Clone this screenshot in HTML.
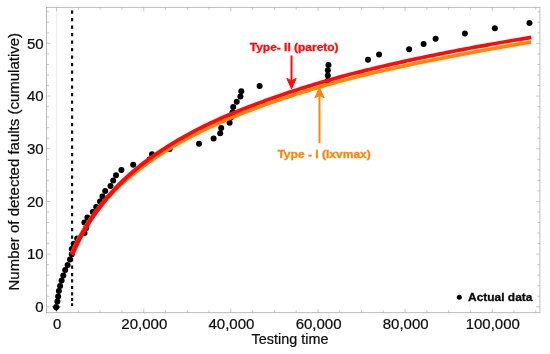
<!DOCTYPE html><html><head><meta charset="utf-8"><title>chart</title><style>html,body{margin:0;padding:0;background:#fff}svg{display:block}text{font-family:"Liberation Sans",Arial,sans-serif}.ax text{stroke:#0c0c0c;stroke-width:0.22px}.bl{stroke-width:0.3px}</style></head><body>
<svg width="550" height="354" viewBox="0 0 550 354">
<rect width="550" height="354" fill="#fff"/>
<line x1="56.699999999999996" y1="7.3" x2="56.699999999999996" y2="312.7" stroke="#e6e6e6" stroke-width="0.8"/>
<rect x="46.5" y="7.3" width="493.4" height="305.4" fill="none" stroke="#a6a6a6" stroke-width="0.75"/>
<path d="M56.60,312.7v-4M56.60,7.3v4M78.38,312.7v-2.5M78.38,7.3v2.5M100.16,312.7v-2.5M100.16,7.3v2.5M121.94,312.7v-2.5M121.94,7.3v2.5M143.72,312.7v-4M143.72,7.3v4M165.50,312.7v-2.5M165.50,7.3v2.5M187.28,312.7v-2.5M187.28,7.3v2.5M209.06,312.7v-2.5M209.06,7.3v2.5M230.84,312.7v-4M230.84,7.3v4M252.62,312.7v-2.5M252.62,7.3v2.5M274.40,312.7v-2.5M274.40,7.3v2.5M296.18,312.7v-2.5M296.18,7.3v2.5M317.96,312.7v-4M317.96,7.3v4M339.74,312.7v-2.5M339.74,7.3v2.5M361.52,312.7v-2.5M361.52,7.3v2.5M383.30,312.7v-2.5M383.30,7.3v2.5M405.08,312.7v-4M405.08,7.3v4M426.86,312.7v-2.5M426.86,7.3v2.5M448.64,312.7v-2.5M448.64,7.3v2.5M470.42,312.7v-2.5M470.42,7.3v2.5M492.20,312.7v-4M492.20,7.3v4M513.98,312.7v-2.5M513.98,7.3v2.5M535.76,312.7v-2.5M535.76,7.3v2.5M46.5,306.80h4M539.9,306.80h-4M46.5,296.26h2.5M539.9,296.26h-2.5M46.5,285.73h2.5M539.9,285.73h-2.5M46.5,275.19h2.5M539.9,275.19h-2.5M46.5,264.66h2.5M539.9,264.66h-2.5M46.5,254.12h4M539.9,254.12h-4M46.5,243.58h2.5M539.9,243.58h-2.5M46.5,233.05h2.5M539.9,233.05h-2.5M46.5,222.51h2.5M539.9,222.51h-2.5M46.5,211.98h2.5M539.9,211.98h-2.5M46.5,201.44h4M539.9,201.44h-4M46.5,190.90h2.5M539.9,190.90h-2.5M46.5,180.37h2.5M539.9,180.37h-2.5M46.5,169.83h2.5M539.9,169.83h-2.5M46.5,159.30h2.5M539.9,159.30h-2.5M46.5,148.76h4M539.9,148.76h-4M46.5,138.22h2.5M539.9,138.22h-2.5M46.5,127.69h2.5M539.9,127.69h-2.5M46.5,117.15h2.5M539.9,117.15h-2.5M46.5,106.62h2.5M539.9,106.62h-2.5M46.5,96.08h4M539.9,96.08h-4M46.5,85.54h2.5M539.9,85.54h-2.5M46.5,75.01h2.5M539.9,75.01h-2.5M46.5,64.47h2.5M539.9,64.47h-2.5M46.5,53.94h2.5M539.9,53.94h-2.5M46.5,43.40h4M539.9,43.40h-4M46.5,32.86h2.5M539.9,32.86h-2.5M46.5,22.33h2.5M539.9,22.33h-2.5M46.5,11.79h2.5M539.9,11.79h-2.5" stroke="#a6a6a6" stroke-width="0.6" fill="none"/>
<line x1="72.1" y1="10.4" x2="72.1" y2="276.5" stroke="#111" stroke-width="2.2" stroke-dasharray="3.4 4.1"/><path d="M72.1,279.3v3.2M72.1,285.9v3.1M72.1,292.3v3.1M72.1,298.1v2.8M72.1,303.2v2.7" stroke="#111" stroke-width="2.2" fill="none"/>
<g fill="#000">
<circle cx="56.2" cy="306.9" r="3.0"/>
<circle cx="57.4" cy="301.6" r="3.0"/>
<circle cx="58.1" cy="296.4" r="3.0"/>
<circle cx="58.9" cy="291.1" r="3.0"/>
<circle cx="60.1" cy="285.9" r="3.0"/>
<circle cx="61.6" cy="280.6" r="3.0"/>
<circle cx="63.3" cy="275.4" r="3.0"/>
<circle cx="65.2" cy="270.1" r="3.0"/>
<circle cx="67.6" cy="264.9" r="3.0"/>
<circle cx="70.0" cy="259.6" r="3.0"/>
<circle cx="71.8" cy="254.2" r="3.0"/>
<circle cx="71.8" cy="248.9" r="3.0"/>
<circle cx="73.7" cy="243.7" r="3.0"/>
<circle cx="77.2" cy="238.4" r="3.0"/>
<circle cx="84.5" cy="233.1" r="3.0"/>
<circle cx="86.2" cy="227.9" r="3.0"/>
<circle cx="84.4" cy="222.6" r="3.0"/>
<circle cx="87.4" cy="217.4" r="3.0"/>
<circle cx="92.8" cy="212.1" r="3.0"/>
<circle cx="96.2" cy="206.9" r="3.0"/>
<circle cx="100.0" cy="201.6" r="3.0"/>
<circle cx="102.5" cy="196.4" r="3.0"/>
<circle cx="105.2" cy="191.1" r="3.0"/>
<circle cx="110.5" cy="185.9" r="3.0"/>
<circle cx="113.2" cy="180.6" r="3.0"/>
<circle cx="116.0" cy="175.3" r="3.0"/>
<circle cx="121.4" cy="170.1" r="3.0"/>
<circle cx="133.2" cy="164.8" r="3.0"/>
<circle cx="149.5" cy="159.6" r="3.0"/>
<circle cx="152.0" cy="154.3" r="3.0"/>
<circle cx="169.6" cy="149.1" r="3.0"/>
<circle cx="199.0" cy="143.8" r="3.0"/>
<circle cx="213.6" cy="138.6" r="3.0"/>
<circle cx="220.2" cy="133.3" r="3.0"/>
<circle cx="221.2" cy="128.1" r="3.0"/>
<circle cx="229.6" cy="122.8" r="3.0"/>
<circle cx="230.9" cy="117.6" r="3.0"/>
<circle cx="232.5" cy="112.3" r="3.0"/>
<circle cx="233.2" cy="107.0" r="3.0"/>
<circle cx="236.7" cy="101.8" r="3.0"/>
<circle cx="240.4" cy="96.5" r="3.0"/>
<circle cx="241.3" cy="91.3" r="3.0"/>
<circle cx="259.6" cy="86.0" r="3.0"/>
<circle cx="327.8" cy="80.8" r="3.0"/>
<circle cx="327.8" cy="75.5" r="3.0"/>
<circle cx="327.8" cy="70.3" r="3.0"/>
<circle cx="328.5" cy="65.0" r="3.0"/>
<circle cx="368.0" cy="59.8" r="3.0"/>
<circle cx="379.1" cy="54.5" r="3.0"/>
<circle cx="409.1" cy="49.3" r="3.0"/>
<circle cx="423.6" cy="44.0" r="3.0"/>
<circle cx="435.6" cy="38.7" r="3.0"/>
<circle cx="464.9" cy="33.5" r="3.0"/>
<circle cx="494.9" cy="28.2" r="3.0"/>
<circle cx="529.5" cy="23.0" r="3.0"/>
<path d="M52.0,306.4 L60.599999999999994,306.4 L56.3,311.2Z"/>
</g>
<path d="M74.04,254.55 L76.91,248.08 L79.76,242.18 L82.62,236.72 L85.47,231.65 L88.32,226.93 L91.17,222.50 L94.02,218.34 L96.87,214.41 L99.72,210.68 L102.58,207.09 L105.43,203.59 L108.28,200.25 L111.13,197.06 L113.98,194.00 L116.83,191.07 L119.67,188.27 L122.51,185.61 L125.37,183.04 L128.22,180.57 L131.07,178.18 L133.93,175.86 L136.81,173.59 L139.68,171.30 L142.54,169.09 L145.39,166.94 L148.25,164.85 L151.11,162.82 L153.98,160.84 L156.84,158.91 L159.70,157.03 L162.58,155.18 L165.45,153.32 L168.32,151.51 L171.19,149.74 L174.06,148.02 L176.93,146.34 L179.81,144.69 L182.68,143.07 L185.56,141.49 L188.43,139.94 L191.31,138.42 L194.18,136.93 L197.06,135.46 L199.94,134.02 L202.82,132.60 L205.70,131.18 L208.57,129.79 L211.45,128.44 L214.32,127.11 L217.20,125.81 L220.08,124.53 L222.96,123.26 L225.84,122.02 L228.72,120.80 L231.60,119.59 L234.47,118.40 L237.35,117.23 L240.23,116.08 L243.11,114.95 L245.99,113.83 L248.87,112.72 L251.76,111.63 L254.65,110.55 L257.53,109.46 L260.41,108.39 L263.29,107.34 L266.17,106.29 L269.06,105.26 L271.94,104.25 L274.82,103.24 L277.70,102.25 L280.58,101.27 L283.47,100.30 L286.35,99.34 L289.23,98.40 L292.11,97.46 L295.00,96.53 L297.88,95.61 L300.77,94.69 L303.65,93.79 L306.54,92.89 L309.42,92.00 L312.30,91.12 L315.19,90.25 L318.07,89.39 L320.95,88.53 L323.84,87.69 L326.72,86.85 L329.61,86.02 L332.49,85.20 L335.37,84.39 L338.26,83.58 L341.13,82.80 L344.01,82.04 L346.89,81.28 L349.78,80.53 L352.66,79.79 L355.55,79.06 L358.43,78.33 L361.32,77.61 L364.20,76.89 L367.09,76.18 L369.97,75.48 L372.85,74.80 L375.73,74.12 L378.62,73.45 L381.51,72.78 L384.39,72.12 L387.28,71.47 L390.16,70.82 L393.05,70.18 L395.93,69.54 L398.82,68.91 L401.70,68.28 L404.59,67.66 L407.47,67.04 L410.36,66.43 L413.25,65.82 L416.13,65.22 L419.02,64.62 L421.90,64.03 L424.79,63.44 L427.67,62.86 L430.56,62.28 L433.45,61.70 L436.33,61.13 L439.22,60.56 L442.11,60.00 L444.99,59.44 L447.88,58.89 L450.76,58.34 L453.65,57.79 L456.54,57.25 L459.43,56.71 L462.32,56.16 L465.21,55.61 L468.09,55.06 L470.98,54.51 L473.87,53.97 L476.75,53.44 L479.64,52.90 L482.53,52.37 L485.41,51.84 L488.30,51.32 L491.19,50.80 L494.07,50.28 L496.96,49.77 L499.85,49.26 L502.73,48.75 L505.62,48.25 L508.51,47.74 L511.39,47.25 L514.28,46.75 L517.17,46.26 L520.05,45.77 L522.94,45.28 L525.83,44.80 L528.71,44.32 L531.60,43.84 L531.00,40.18 L528.11,40.66 L525.22,41.14 L522.33,41.63 L519.44,42.11 L516.55,42.60 L513.66,43.09 L510.76,43.59 L507.87,44.09 L504.98,44.59 L502.09,45.10 L499.20,45.60 L496.31,46.12 L493.42,46.63 L490.53,47.15 L487.64,47.67 L484.75,48.19 L481.86,48.72 L478.97,49.25 L476.08,49.79 L473.19,50.32 L470.29,50.87 L467.40,51.41 L464.51,51.96 L461.62,52.51 L458.74,53.06 L455.85,53.60 L452.96,54.14 L450.07,54.69 L447.18,55.24 L444.29,55.79 L441.40,56.35 L438.51,56.92 L435.61,57.48 L432.72,58.05 L429.83,58.63 L426.94,59.21 L424.05,59.80 L421.16,60.39 L418.27,60.98 L415.37,61.58 L412.48,62.18 L409.59,62.79 L406.70,63.40 L403.81,64.02 L400.92,64.64 L398.02,65.27 L395.13,65.90 L392.24,66.54 L389.35,67.19 L386.46,67.84 L383.56,68.49 L380.67,69.15 L377.78,69.82 L374.89,70.49 L371.99,71.17 L369.10,71.86 L366.20,72.56 L363.31,73.27 L360.42,73.99 L357.53,74.71 L354.63,75.44 L351.74,76.18 L348.85,76.92 L345.95,77.67 L343.06,78.43 L340.16,79.20 L337.26,79.99 L334.37,80.80 L331.47,81.61 L328.58,82.44 L325.69,83.27 L322.79,84.11 L319.90,84.95 L317.01,85.81 L314.11,86.67 L311.22,87.55 L308.32,88.43 L305.43,89.32 L302.54,90.22 L299.64,91.13 L296.75,92.05 L293.86,92.98 L290.97,93.90 L288.07,94.84 L285.18,95.79 L282.28,96.76 L279.39,97.73 L276.49,98.71 L273.60,99.71 L270.70,100.72 L267.80,101.74 L264.91,102.78 L262.01,103.82 L259.12,104.88 L256.22,105.96 L253.33,107.05 L250.44,108.13 L247.54,109.23 L244.65,110.34 L241.75,111.46 L238.85,112.60 L235.96,113.76 L233.06,114.94 L230.16,116.13 L227.26,117.35 L224.36,118.58 L221.46,119.83 L218.57,121.10 L215.67,122.39 L212.77,123.71 L209.87,125.05 L206.96,126.41 L204.06,127.81 L201.16,129.24 L198.27,130.67 L195.37,132.12 L192.47,133.59 L189.57,135.10 L186.66,136.63 L183.76,138.20 L180.86,139.80 L177.96,141.43 L175.05,143.09 L172.15,144.80 L169.24,146.54 L166.33,148.31 L163.42,150.12 L160.52,151.96 L157.62,153.80 L154.71,155.68 L151.79,157.61 L148.87,159.60 L145.96,161.64 L143.04,163.74 L140.12,165.90 L137.20,168.12 L134.30,170.41 L131.39,172.67 L128.48,175.00 L125.55,177.42 L122.63,179.92 L119.70,182.52 L116.77,185.23 L113.83,188.08 L110.90,191.06 L107.98,194.17 L105.05,197.41 L102.12,200.81 L99.20,204.35 L96.27,207.98 L93.35,211.77 L90.42,215.79 L87.49,220.05 L84.57,224.58 L81.64,229.41 L78.72,234.60 L75.79,240.18 L72.87,246.21 L69.96,252.73Z" fill="#ff8408"/>
<path d="M74.04,255.84 L76.92,249.24 L79.77,243.18 L82.63,237.58 L85.48,232.35 L88.34,227.45 L91.19,222.85 L94.05,218.51 L96.90,214.40 L99.75,210.50 L102.61,206.75 L105.46,203.10 L108.31,199.61 L111.16,196.27 L114.01,193.07 L116.86,189.98 L119.72,187.01 L122.57,184.15 L125.42,181.38 L128.28,178.70 L131.13,176.11 L133.99,173.60 L136.85,171.17 L139.71,168.80 L142.57,166.51 L145.42,164.27 L148.29,162.10 L151.15,159.98 L154.01,157.91 L156.87,155.90 L159.73,153.93 L162.60,152.01 L165.47,150.12 L168.34,148.27 L171.20,146.46 L174.08,144.70 L176.95,142.98 L179.82,141.29 L182.70,139.64 L185.57,138.01 L188.45,136.42 L191.32,134.87 L194.20,133.33 L197.07,131.83 L199.95,130.36 L202.83,128.91 L205.70,127.48 L208.58,126.08 L211.45,124.72 L214.33,123.38 L217.21,122.06 L220.09,120.76 L222.96,119.49 L225.84,118.23 L228.72,117.00 L231.60,115.78 L234.48,114.58 L237.36,113.40 L240.24,112.23 L243.12,111.08 L246.00,109.95 L248.88,108.84 L251.76,107.73 L254.65,106.63 L257.54,105.54 L260.42,104.45 L263.30,103.38 L266.18,102.33 L269.06,101.29 L271.94,100.26 L274.83,99.24 L277.71,98.23 L280.59,97.24 L283.47,96.26 L286.36,95.29 L289.24,94.33 L292.12,93.38 L295.00,92.44 L297.89,91.51 L300.77,90.59 L303.65,89.68 L306.54,88.77 L309.42,87.88 L312.30,87.00 L315.19,86.12 L318.07,85.26 L320.96,84.40 L323.84,83.55 L326.72,82.71 L329.61,81.88 L332.49,81.05 L335.38,80.24 L338.26,79.43 L341.13,78.63 L344.01,77.87 L346.90,77.11 L349.78,76.36 L352.67,75.61 L355.55,74.87 L358.44,74.14 L361.32,73.42 L364.21,72.70 L367.09,71.99 L369.97,71.28 L372.86,70.58 L375.75,69.89 L378.63,69.20 L381.52,68.52 L384.40,67.84 L387.29,67.17 L390.17,66.50 L393.06,65.84 L395.94,65.19 L398.83,64.54 L401.71,63.89 L404.60,63.26 L407.48,62.62 L410.37,61.99 L413.26,61.37 L416.14,60.75 L419.03,60.13 L421.91,59.52 L424.80,58.92 L427.69,58.32 L430.57,57.72 L433.46,57.13 L436.34,56.54 L439.23,55.96 L442.12,55.38 L445.00,54.80 L447.89,54.23 L450.77,53.66 L453.66,53.10 L456.55,52.54 L459.43,51.99 L462.32,51.44 L465.21,50.89 L468.09,50.34 L470.98,49.80 L473.86,49.27 L476.75,48.73 L479.64,48.20 L482.52,47.68 L485.41,47.15 L488.30,46.63 L491.18,46.12 L494.07,45.60 L496.96,45.09 L499.84,44.59 L502.73,44.08 L505.62,43.58 L508.50,43.09 L511.39,42.59 L514.28,42.10 L517.16,41.61 L520.05,41.13 L522.94,40.65 L525.83,40.17 L528.71,39.69 L531.60,39.22 L531.00,35.56 L528.11,36.03 L525.22,36.51 L522.33,36.99 L519.44,37.47 L516.55,37.96 L513.66,38.45 L510.77,38.94 L507.88,39.43 L504.99,39.93 L502.10,40.43 L499.20,40.93 L496.31,41.44 L493.42,41.95 L490.53,42.46 L487.64,42.98 L484.75,43.50 L481.86,44.02 L478.97,44.55 L476.08,45.08 L473.19,45.61 L470.30,46.15 L467.41,46.69 L464.52,47.24 L461.62,47.79 L458.73,48.34 L455.84,48.89 L452.95,49.45 L450.06,50.02 L447.17,50.59 L444.28,51.16 L441.39,51.73 L438.50,52.31 L435.60,52.90 L432.71,53.49 L429.82,54.08 L426.93,54.68 L424.04,55.28 L421.15,55.88 L418.26,56.50 L415.36,57.11 L412.47,57.73 L409.58,58.36 L406.69,58.99 L403.80,59.62 L400.91,60.26 L398.01,60.91 L395.12,61.56 L392.23,62.21 L389.34,62.87 L386.45,63.54 L383.55,64.21 L380.66,64.89 L377.77,65.57 L374.88,66.26 L371.99,66.96 L369.09,67.66 L366.20,68.37 L363.31,69.08 L360.42,69.80 L357.52,70.53 L354.63,71.26 L351.74,72.00 L348.84,72.75 L345.95,73.50 L343.06,74.26 L340.16,75.03 L337.26,75.83 L334.36,76.65 L331.47,77.46 L328.58,78.29 L325.68,79.13 L322.79,79.97 L319.90,80.82 L317.00,81.68 L314.11,82.55 L311.22,83.43 L308.32,84.31 L305.43,85.21 L302.53,86.12 L299.64,87.03 L296.75,87.96 L293.85,88.89 L290.96,89.83 L288.06,90.78 L285.17,91.75 L282.27,92.72 L279.38,93.71 L276.48,94.70 L273.59,95.71 L270.69,96.73 L267.80,97.77 L264.90,98.82 L262.01,99.88 L259.11,100.95 L256.21,102.04 L253.32,103.14 L250.43,104.24 L247.54,105.34 L244.64,106.47 L241.74,107.61 L238.85,108.76 L235.95,109.93 L233.05,111.12 L230.15,112.33 L227.26,113.55 L224.36,114.80 L221.46,116.06 L218.56,117.35 L215.66,118.65 L212.76,119.98 L209.86,121.33 L206.96,122.71 L204.05,124.12 L201.15,125.56 L198.25,127.02 L195.35,128.50 L192.45,130.02 L189.55,131.56 L186.65,133.14 L183.74,134.74 L180.84,136.38 L177.94,138.05 L175.04,139.75 L172.13,141.49 L169.23,143.27 L166.32,145.08 L163.41,146.93 L160.50,148.82 L157.59,150.74 L154.67,152.71 L151.76,154.73 L148.84,156.80 L145.93,158.93 L143.01,161.11 L140.09,163.36 L137.17,165.68 L134.25,168.06 L131.33,170.51 L128.41,173.05 L125.49,175.66 L122.57,178.37 L119.65,181.17 L116.72,184.07 L113.80,187.08 L110.87,190.20 L107.94,193.46 L105.02,196.85 L102.09,200.39 L99.17,204.08 L96.25,207.87 L93.32,211.84 L90.40,216.04 L87.47,220.47 L84.55,225.17 L81.63,230.17 L78.70,235.50 L75.78,241.23 L72.86,247.40 L69.96,254.06Z" fill="#ff0a0a"/>
<line x1="291.5" y1="55.5" x2="291.5" y2="80.8" stroke="#ff0a0a" stroke-width="2"/><path d="M291.5,88.8 L286.8,78.39999999999999 L291.5,80.8 L296.2,78.39999999999999Z" fill="#ff0a0a" stroke="#ff0a0a" stroke-width="1" stroke-linejoin="round"/>
<line x1="319.5" y1="143.2" x2="319.5" y2="95.5" stroke="#ff8408" stroke-width="2"/><path d="M319.5,87.5 L314.8,97.9 L319.5,95.5 L324.2,97.9Z" fill="#ff8408" stroke="#ff8408" stroke-width="1" stroke-linejoin="round"/>
<text x="249.8" y="50.5" font-size="11" font-weight="bold" class="bl" stroke="#ff0a0a" fill="#ff0a0a" textLength="88.8" lengthAdjust="spacingAndGlyphs">Type- II (pareto)</text>
<text x="277.4" y="157.7" font-size="11" font-weight="bold" class="bl" stroke="#ff8408" fill="#ff8408" textLength="93.4" lengthAdjust="spacingAndGlyphs">Type - I (lxvmax)</text>
<circle cx="459.3" cy="297.3" r="2.5" fill="#000"/>
<text x="468.1" y="300.7" font-size="11" font-weight="bold" class="bl" stroke="#0a0a0a" fill="#0a0a0a" textLength="64.3" lengthAdjust="spacingAndGlyphs">Actual data</text>
<g class="ax">
<text x="57.2" y="329" font-size="15" fill="#0c0c0c" text-anchor="middle">0</text>
<text x="144.3" y="329" font-size="15" fill="#0c0c0c" text-anchor="middle">20,000</text>
<text x="231.4" y="329" font-size="15" fill="#0c0c0c" text-anchor="middle">40,000</text>
<text x="318.6" y="329" font-size="15" fill="#0c0c0c" text-anchor="middle">60,000</text>
<text x="405.7" y="329" font-size="15" fill="#0c0c0c" text-anchor="middle">80,000</text>
<text x="492.8" y="329" font-size="15" fill="#0c0c0c" text-anchor="middle">100,000</text>
<text x="43.7" y="311.9" font-size="15" fill="#0c0c0c" text-anchor="end">0</text>
<text x="43.7" y="259.2" font-size="15" fill="#0c0c0c" text-anchor="end">10</text>
<text x="43.7" y="206.5" font-size="15" fill="#0c0c0c" text-anchor="end">20</text>
<text x="43.7" y="153.9" font-size="15" fill="#0c0c0c" text-anchor="end">30</text>
<text x="43.7" y="101.2" font-size="15" fill="#0c0c0c" text-anchor="end">40</text>
<text x="43.7" y="48.5" font-size="15" fill="#0c0c0c" text-anchor="end">50</text>
<text x="290" y="344.3" font-size="14.7" fill="#0c0c0c" text-anchor="middle" textLength="76.8" lengthAdjust="spacingAndGlyphs">Testing time</text>
<text transform="translate(19.2,161.7) rotate(-90)" font-size="15" fill="#0c0c0c" text-anchor="middle">Number of detected faults (cumulative)</text>
</g>
</svg></body></html>
